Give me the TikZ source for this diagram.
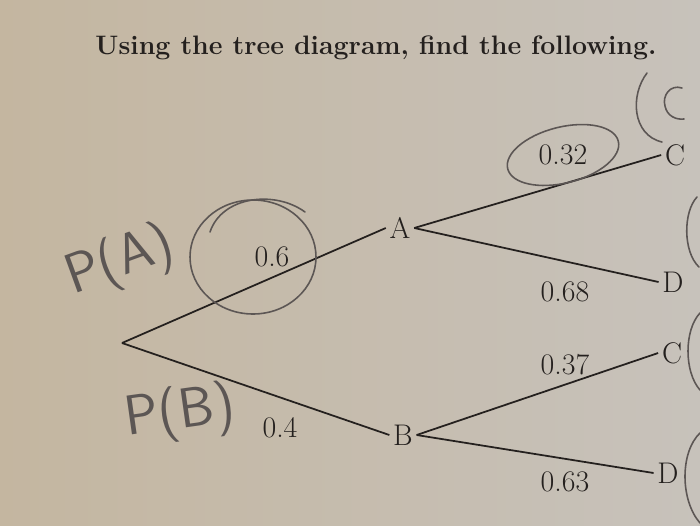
\documentclass[tikz,border=0pt]{standalone}
\usepackage{tikz}
\usetikzlibrary{calc}
\usetikzlibrary{positioning}
\definecolor{paper}{RGB}{199,194,187}
\definecolor{warmpaper}{RGB}{196,182,160}
\definecolor{ink}{RGB}{36,32,30}
\definecolor{pencil}{RGB}{92,86,84}
\newcommand{\probsize}{\fontsize{17}{19}\selectfont}

\begin{document}
\begin{tikzpicture}[
x=0.02cm, y=-0.02cm,
Branches/.style={draw=ink,line width=1pt},
Events/.style={text=ink,inner sep=2pt,font=\probsize},
Probs/.style={text=ink,font=\probsize},
PencilMarks/.style={draw=pencil,line width=0.9pt,line cap=round},
Scrawl/.style={text=pencil,font=\sffamily\fontsize{32}{34}\selectfont,inner sep=0pt}
]
% the sheet of paper
\shade[left color=warmpaper,right color=paper] (0,0) rectangle (700,525);
\useasboundingbox (0,0) rectangle (700,525);

\node[text=ink,font=\bfseries\fontsize{15.2}{18}\selectfont] (title) at (376,48)
{Using the tree diagram, find the following.};

% Feel free to move the root of the tree here
\pgfmathparse{122}		\let\Xo\pgfmathresult
\pgfmathparse{343}		\let\Yo\pgfmathresult
\coordinate (O) at (\Xo,\Yo);

% first stage
\node[Events] (A) at (400,228) {A};
\node[Events] (B) at (403,435) {B};

% second stage
\node[Events] (AC) at (675,155) {C};
\node[Events] (AD) at (673,282) {D};
\node[Events] (BC) at (672,353) {C};
\node[Events] (BD) at (668,473) {D};

\draw[Branches] (O)--(A.west);
\draw[Branches] (O)--(B.west);
\draw[Branches] (A.east)--(AC.west);
\draw[Branches] (A.east)--(AD.west);
\draw[Branches] (B.east)--(BC.west);
\draw[Branches] (B.east)--(BD.west);

\node[Probs] (pA) at (272,257) {0.6};
\node[Probs] (pB) at (280,428) {0.4};
\node[Probs] (pAC) at (563,155) {0.32};
\node[Probs] (pAD) at (565,292) {0.68};
\node[Probs] (pBC) at (565,365) {0.37};
\node[Probs] (pBD) at (565,482) {0.63};

% pencil marks on the sheet
\draw[PencilMarks,rotate around={14:(pAC)}] (pAC) ellipse [x radius=57, y radius=28];
\draw[PencilMarks] (pA) ++(-19,0) ellipse [x radius=63, y radius=57];
\draw[PencilMarks] (210,232) .. controls (222,196) and (275,190) .. (305,212);

\node[Scrawl,rotate=20] (PA) at (120,262) {P(A)};
\node[Scrawl,rotate=8] (PB) at (180,414) {P(B)};

\draw[PencilMarks] (647,73) .. controls (630,95) and (632,135) .. (662,142);
\draw[PencilMarks] (682,88) .. controls (670,84) and (662,96) .. (665,106)
  .. controls (667,116) and (676,120) .. (684,119);
\draw[PencilMarks] (697,197) .. controls (683,212) and (683,252) .. (699,267);
\draw[PencilMarks] (700,313) .. controls (684,330) and (684,372) .. (700,390);
\draw[PencilMarks] (700,433) .. controls (680,452) and (680,500) .. (700,523);
\end{tikzpicture}
\end{document}
